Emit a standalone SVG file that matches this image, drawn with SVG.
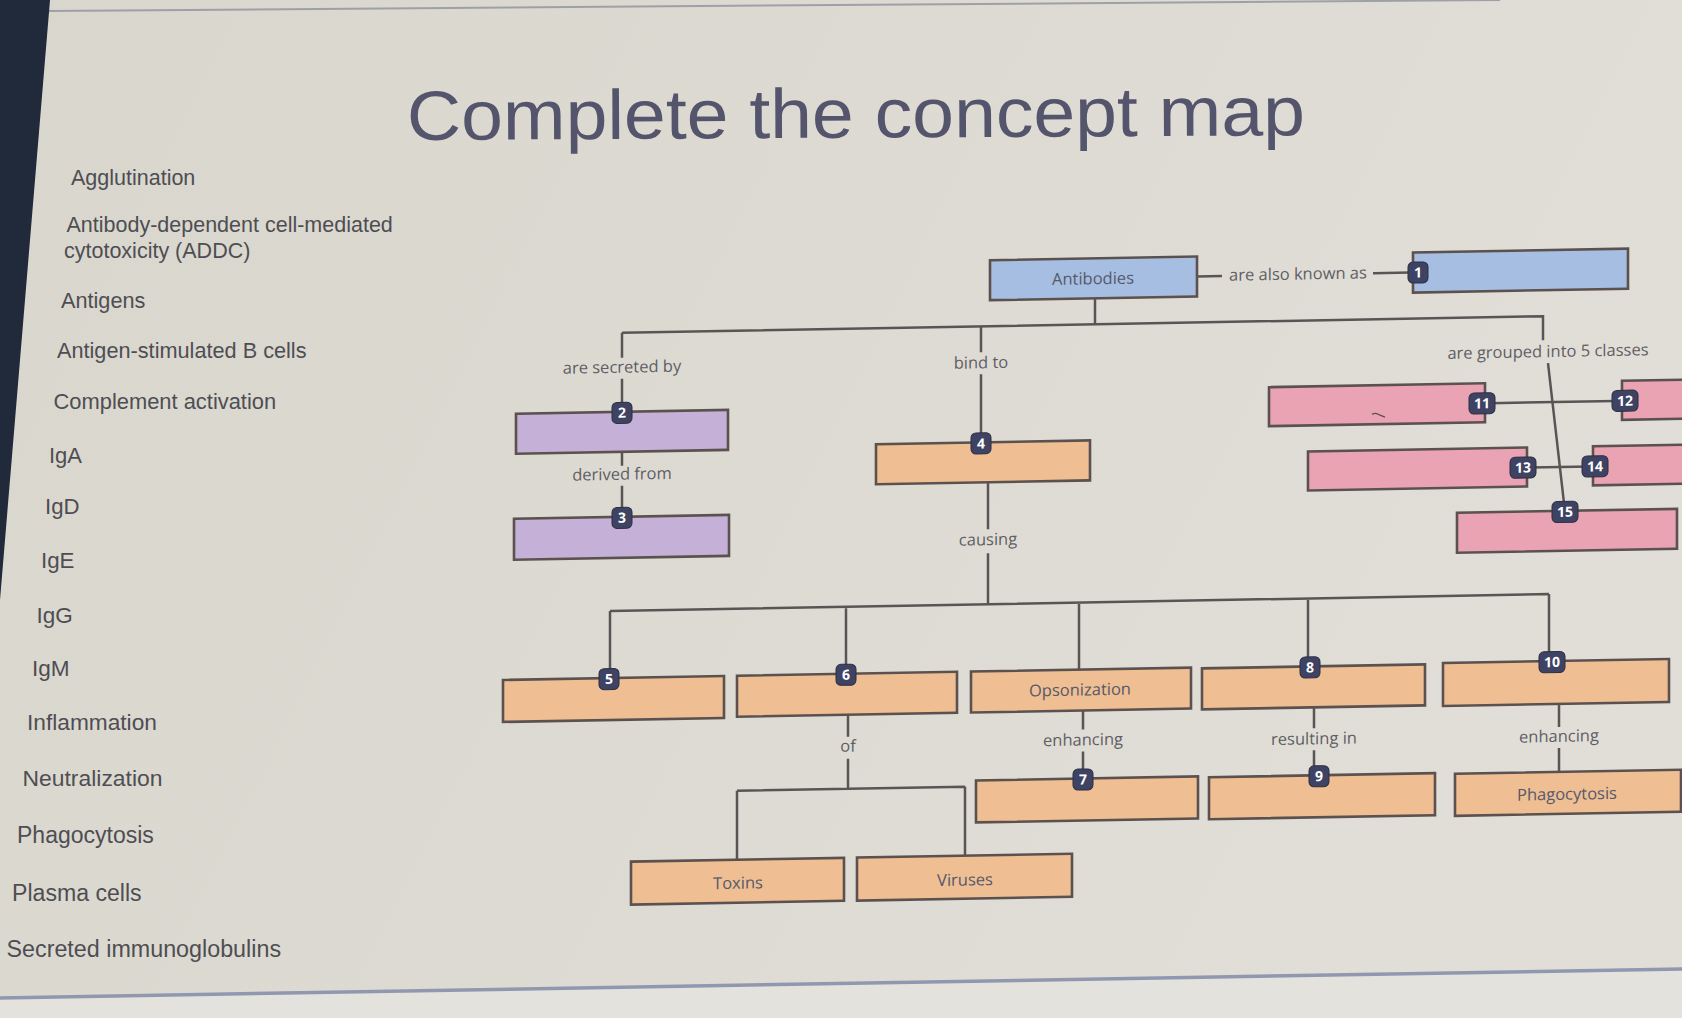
<svg xmlns="http://www.w3.org/2000/svg" width="1682" height="1018" viewBox="0 0 1682 1018">
<defs>
<linearGradient id="bg" x1="0" y1="0" x2="1" y2="0.3">
<stop offset="0" stop-color="#d9d6ce"/>
<stop offset="1" stop-color="#e1ded7"/>
</linearGradient>
<style>
.lst{font-family:"Liberation Sans",Arial,sans-serif;fill:#4e4e52;}
.lbl{font-family:"Open Sans","Noto Sans",sans-serif;font-size:16.5px;fill:#5e5e64;text-anchor:middle;}
.txt{font-family:"Open Sans","Noto Sans",sans-serif;font-size:16.5px;fill:#55596a;text-anchor:middle;}
.box{stroke:#5b524f;stroke-width:2.6;}
.blue{fill:#a6bee2;}
.purple{fill:#c5b0d7;}
.orange{fill:#efbe93;}
.pink{fill:#e9a3b3;}
.con{fill:none;stroke:#5a5555;stroke-width:2.5;}
.bdg rect{fill:#3f4363;stroke:#2c2e42;stroke-width:1;}
.bdg text{font-family:"Open Sans","DejaVu Sans",sans-serif;font-size:14px;font-weight:bold;fill:#ffffff;text-anchor:middle;}
</style>
</defs>
<rect x="0" y="0" width="1682" height="1018" fill="url(#bg)"/>
<polygon points="0,1018 0,998 1682,969 1682,1018" fill="#e4e2dd"/>
<line x1="0" y1="998" x2="1682" y2="969" stroke="#9098b0" stroke-width="3.5"/>
<line x1="48" y1="11" x2="1500" y2="0" stroke="#9ea0a8" stroke-width="2"/>
<polygon points="0,0 50,0 0,600" fill="#202a3a"/>

<text x="407" y="140" font-family="Liberation Sans, Arial, sans-serif" font-size="70" fill="#54556c" textLength="898" lengthAdjust="spacingAndGlyphs" transform="rotate(-0.3 407 140)">Complete the concept map</text>

<g id="word-list">
<text class="lst" x="71" y="185" font-size="21.5">Agglutination</text>
<text class="lst" x="66.5" y="232" font-size="21.5">Antibody-dependent cell-mediated</text>
<text class="lst" x="64" y="258" font-size="21.5">cytotoxicity (ADDC)</text>
<text class="lst" x="61" y="308" font-size="21.7">Antigens</text>
<text class="lst" x="57" y="358" font-size="21.7">Antigen-stimulated B cells</text>
<text class="lst" x="53.5" y="409" font-size="21.9">Complement activation</text>
<text class="lst" x="49" y="463" font-size="22">IgA</text>
<text class="lst" x="45" y="514" font-size="22.2">IgD</text>
<text class="lst" x="41" y="568" font-size="22.3">IgE</text>
<text class="lst" x="36.5" y="623" font-size="22.5">IgG</text>
<text class="lst" x="32" y="676" font-size="22.6">IgM</text>
<text class="lst" x="27" y="730" font-size="22.7">Inflammation</text>
<text class="lst" x="22.5" y="786" font-size="22.9">Neutralization</text>
<text class="lst" x="17" y="843" font-size="23">Phagocytosis</text>
<text class="lst" x="12" y="901" font-size="23.1">Plasma cells</text>
<text class="lst" x="6.5" y="957" font-size="23.3">Secreted immunoglobulins</text>
</g>

<g id="map" transform="matrix(1,-0.018,0,1,0,18)">
<g id="connectors">
<path class="con" d="M1095,300 V326 M622,326 H1543 V350 M1548,373 L1565,522"/>
<path class="con" d="M622,326 V351 M622,372 V406 M622,445 V459 M622,479 V511"/>
<path class="con" d="M981,326 V352 M981,374 V442 M988,482 V529 M988,553 V604"/>
<path class="con" d="M610,604 H1549 M610,604 V671 M846,604 V671 M1079,604 V671 M1308,604 V672 M1549,604 V671"/>
<path class="con" d="M848,712 V734 M848,756 V786 M737,786 H965 M737,786 V855 M965,786 V855"/>
<path class="con" d="M1083,712 V731 M1083,753 V780 M1314,713 V734 M1314,756 V781 M1559,714 V737 M1559,758 V782"/>
<path class="con" d="M1197,280 H1222 M1373,280 H1410 M1490,412 H1615 M1530,477 H1590"/>
<text class="lbl" x="622" y="366">are secreted by</text>
<text class="lbl" x="622" y="473">derived from</text>
<text class="lbl" x="981" y="368">bind to</text>
<text class="lbl" x="988" y="545">causing</text>
<text class="lbl" x="848" y="749">of</text>
<text class="lbl" x="1083" y="747">enhancing</text>
<text class="lbl" x="1314" y="750">resulting in</text>
<text class="lbl" x="1559" y="752">enhancing</text>
<text class="lbl" x="1298" y="285">are also known as</text>
<text class="lbl" x="1548" y="367">are grouped into 5 classes</text>
</g>

<g id="antibodies"><rect class="box blue" x="990" y="260" width="207" height="40"/><text class="txt" x="1093" y="286">Antibodies</text></g>
<g id="n1"><rect class="box blue" x="1413" y="260" width="215" height="40"/><g class="bdg"><rect x="1408" y="269.5" width="20" height="21" rx="5"/><text x="1418" y="285">1</text></g></g>
<g id="n2"><rect class="box purple" x="516" y="405" width="212" height="40"/><g class="bdg"><rect x="612" y="395.5" width="20" height="21" rx="5"/><text x="622" y="411">2</text></g></g>
<g id="n3"><rect class="box purple" x="514" y="510" width="215" height="41"/><g class="bdg"><rect x="612" y="500.5" width="20" height="21" rx="5"/><text x="622" y="516">3</text></g></g>
<g id="n4"><rect class="box orange" x="876" y="442" width="214" height="40"/><g class="bdg"><rect x="971" y="432.5" width="20" height="21" rx="5"/><text x="981" y="448">4</text></g></g>
<g id="n5"><rect class="box orange" x="503" y="671" width="221" height="42"/><g class="bdg"><rect x="599" y="661.5" width="20" height="21" rx="5"/><text x="609" y="677">5</text></g></g>
<g id="n6"><rect class="box orange" x="737" y="671" width="220" height="41"/><g class="bdg"><rect x="836" y="661.5" width="20" height="21" rx="5"/><text x="846" y="677">6</text></g></g>
<g id="opsonization"><rect class="box orange" x="971" y="671" width="220" height="41"/><text class="txt" x="1080" y="697">Opsonization</text></g>
<g id="n8"><rect class="box orange" x="1202" y="672" width="223" height="41"/><g class="bdg"><rect x="1300" y="662.5" width="20" height="21" rx="5"/><text x="1310" y="678">8</text></g></g>
<g id="n10"><rect class="box orange" x="1443" y="671" width="226" height="43"/><g class="bdg"><rect x="1539" y="661.5" width="26" height="21" rx="5"/><text x="1552" y="677">10</text></g></g>
<g id="n7"><rect class="box orange" x="976" y="780" width="222" height="42"/><g class="bdg"><rect x="1073" y="770.5" width="20" height="21" rx="5"/><text x="1083" y="786">7</text></g></g>
<g id="n9"><rect class="box orange" x="1209" y="781" width="226" height="42"/><g class="bdg"><rect x="1309" y="771.5" width="20" height="21" rx="5"/><text x="1319" y="787">9</text></g></g>
<g id="phagocytosis"><rect class="box orange" x="1455" y="782" width="226" height="42"/><text class="txt" x="1567" y="810">Phagocytosis</text></g>
<g id="toxins"><rect class="box orange" x="631" y="855" width="213" height="43"/><text class="txt" x="738" y="884">Toxins</text></g>
<g id="viruses"><rect class="box orange" x="857" y="855" width="215" height="43"/><text class="txt" x="965" y="885">Viruses</text></g>
<g id="n11"><rect class="box pink" x="1269" y="392" width="216" height="39"/><path d="M1372,421 q4,-2 8,1 l5,2" fill="none" stroke="#6a4a50" stroke-width="1.3"/><g class="bdg"><rect x="1469" y="401.5" width="26" height="21" rx="5"/><text x="1482" y="417">11</text></g></g>
<g id="n12"><rect class="box pink" x="1622" y="392" width="90" height="39"/><g class="bdg"><rect x="1612" y="401.5" width="26" height="21" rx="5"/><text x="1625" y="417">12</text></g></g>
<g id="n13"><rect class="box pink" x="1308" y="457" width="219" height="39"/><g class="bdg"><rect x="1510" y="466.5" width="26" height="21" rx="5"/><text x="1523" y="482">13</text></g></g>
<g id="n14"><rect class="box pink" x="1593" y="457" width="120" height="39"/><g class="bdg"><rect x="1582" y="466.5" width="26" height="21" rx="5"/><text x="1595" y="482">14</text></g></g>
<g id="n15"><rect class="box pink" x="1457" y="521" width="220" height="40"/><g class="bdg"><rect x="1552" y="511.5" width="26" height="21" rx="5"/><text x="1565" y="527">15</text></g></g>
</g>
</svg>
